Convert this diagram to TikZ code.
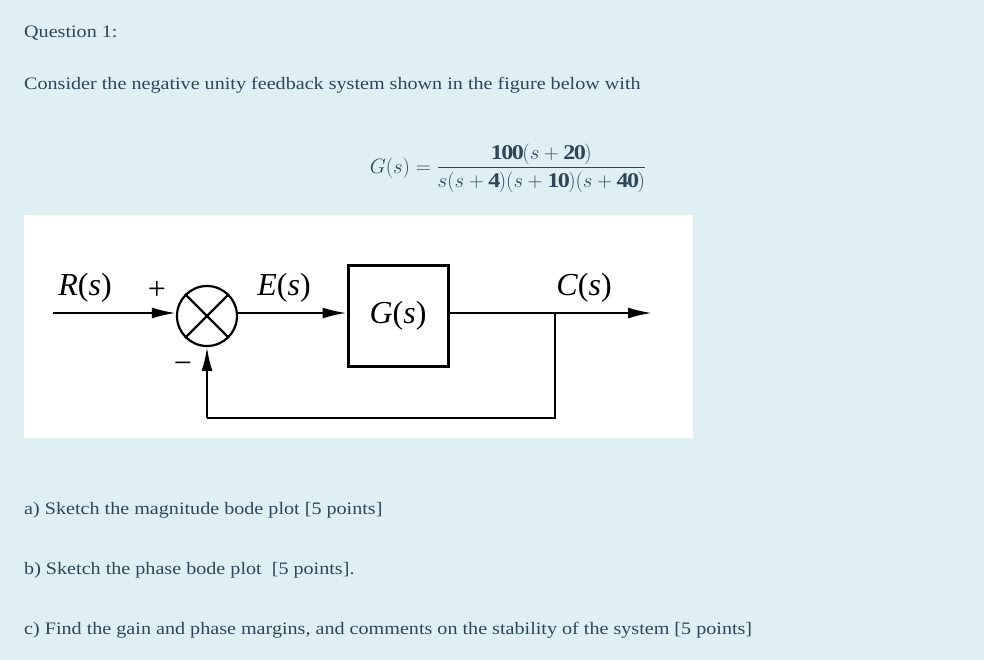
\documentclass[tikz,border=0pt]{standalone}
\usepackage{amsmath}
\usepackage{fontspec}
\setmainfont[FakeStretch=1.15]{Liberation Serif}
\newfontfamily\diagfont{Liberation Serif}
\usetikzlibrary{arrows.meta}
\definecolor{bg}{HTML}{DFF0F5}
\definecolor{txt}{HTML}{2E4756}
\tikzset{
  body/.style={anchor=west,text=txt,font=\fontsize{17.5}{20}\selectfont,inner sep=0},
  dlab/.style={font=\diagfont\fontsize{32}{34}\selectfont,inner sep=0},
  wire/.style={line width=2.2pt},
  arr/.style={wire,-{Latex[length=24pt,width=11pt]}}
}
\begin{document}
\begin{tikzpicture}[x=1pt,y=-1pt]
\fill[bg] (0,0) rectangle (984,660);
\useasboundingbox (0,0) rectangle (984,660);
\fill[white] (24,215) rectangle (693,438);
\node[body] (q) at (24,33) {Question 1:};
\node[body] (c) at (24,85) {Consider the negative unity feedback system shown in the figure below with};
\node[text=txt,font=\fontsize{21}{24}\selectfont] (eq) at (508,168) {$G(s)=\dfrac{\mathbf{100}(s+\mathbf{20})}{s(s+\mathbf{4})(s+\mathbf{10})(s+\mathbf{40})}$};
\node[body] (a) at (24,510) {a) Sketch the magnitude bode plot [5 points]};
\node[body] (b) at (24,570) {b) Sketch the phase bode plot\ \ [5 points].};
\node[body] (cc) at (24,630) {c) Find the gain and phase margins, and comments on the stability of the system [5 points]};
% diagram
\coordinate (in) at (53,313);
\node[circle,draw,wire,minimum size=60pt,inner sep=0] (sum) at (207,316) {};
\draw[wire] (sum.45)--(sum.225) (sum.135)--(sum.315);
\node[draw,line width=3pt,minimum width=100pt,minimum height=101pt,inner sep=0] (g) at (398,316) {};
\node[dlab] at (398,316) {\textit{G}(\textit{s})};
\coordinate (out) at (652,313);
\coordinate (br) at (555,313);
\coordinate (fb1) at (555,418);
\coordinate (fb2) at (207,418);
\draw[arr] (in) -- (sum.west |- in);
\draw[arr] (sum.east |- 0,313) -- (g.west |- 0,313);
\draw[arr] (g.east |- 0,313) -- (out);
\draw[wire] (br) -- (fb1) -- (fb2);
\draw[arr] (fb2) -- (sum.south);
\node[dlab] (r) at (85,288) {\textit{R}(\textit{s})};
\node[dlab] (p) at (157,290) {+};
\node[dlab] (e) at (284,288) {\textit{E}(\textit{s})};
\node[dlab] (co) at (584,288) {\textit{C}(\textit{s})};
\node[dlab] (m) at (183,368) {\textminus};
\end{tikzpicture}
\end{document}
